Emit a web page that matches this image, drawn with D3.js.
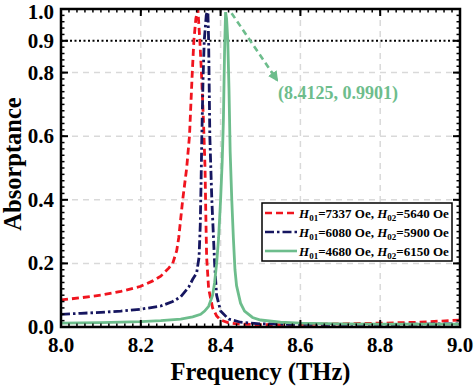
<!DOCTYPE html>
<html><head><meta charset="utf-8">
<script src="https://cdn.jsdelivr.net/npm/d3@7"></script>
<style>body{margin:0;background:#fff}svg{display:block}text{font-family:"Liberation Serif","Times New Roman",serif;font-weight:bold}</style>
</head><body><svg id="c" width="474" height="387"></svg>
<script>
const xTicks=[8.0,8.2,8.4,8.6,8.8,9.0];
const yTicks=[0.0,0.2,0.4,0.6,0.8,0.9,1.0];
const yTickLabels=["0.0","0.2","0.4","0.6","0.8","0.9","1.0"];
const legendH01=["7337","6080","4680"];
const legendH02=["5640","5900","6150"];
const peakLabel="(8.4125, 0.9901)";
const peakPoint=[8.4125,0.9901];
// series 1 (red dashed)
const redX=[8.00,8.05,8.10,8.15,8.20,8.23,8.25,8.27,8.28,8.29,8.295,8.305,8.315,8.322,8.329,8.333,8.338,8.343,8.348,8.352,8.357,8.361,8.363,8.365,8.37,8.38,8.39,8.40,8.42,8.45,8.50,8.60,8.70,8.80,8.90,9.00];
const redY=[0.085,0.092,0.10,0.112,0.128,0.145,0.16,0.185,0.20,0.24,0.28,0.40,0.50,0.60,0.80,0.90,0.97,1.00,0.90,0.80,0.65,0.50,0.35,0.22,0.12,0.06,0.035,0.022,0.013,0.009,0.007,0.008,0.010,0.012,0.015,0.022];
// series 2 (navy dash-dot)
const blueX=[8.00,8.05,8.10,8.15,8.20,8.25,8.28,8.30,8.32,8.33,8.34,8.346,8.349,8.351,8.353,8.356,8.359,8.364,8.368,8.370,8.373,8.378,8.385,8.39,8.40,8.42,8.45,8.50,8.60,8.80,9.00];
const blueY=[0.04,0.043,0.046,0.05,0.056,0.066,0.08,0.095,0.125,0.15,0.17,0.22,0.32,0.45,0.60,0.78,0.90,0.98,1.00,0.90,0.60,0.40,0.20,0.10,0.05,0.025,0.015,0.010,0.008,0.008,0.010];
// series 3 (green solid)
const greenX=[8.00,8.10,8.20,8.25,8.30,8.33,8.35,8.36,8.37,8.38,8.385,8.39,8.395,8.40,8.404,8.407,8.41,8.4125,8.415,8.418,8.421,8.424,8.428,8.432,8.436,8.44,8.45,8.46,8.48,8.50,8.55,8.60,8.70,8.80,9.00];
const greenY=[0.012,0.014,0.017,0.02,0.025,0.032,0.04,0.05,0.065,0.10,0.14,0.20,0.28,0.40,0.52,0.65,0.87,0.9901,0.97,0.90,0.75,0.55,0.40,0.28,0.18,0.13,0.075,0.05,0.03,0.022,0.015,0.012,0.010,0.009,0.009];

const svg=d3.select("#c");
const L=61,R=460,T=9,B=327;
const x=d3.scaleLinear().domain([8,9]).range([L,R]);
const y=d3.scaleLinear().domain([0,1]).range([B,T]);
const minorX=d3.range(8,9.0001,0.02), minorY=d3.range(0,1.0001,0.02);

// grid
const g=svg.append("g");
[8.2,8.4,8.6,8.8].forEach(v=>g.append("line").attr("x1",x(v)).attr("x2",x(v)).attr("y1",T).attr("y2",B).attr("stroke","#d9d9d9").attr("stroke-width",1.5).attr("stroke-dasharray","6,5"));
[0.2,0.4,0.6,0.8].forEach(v=>g.append("line").attr("x1",L).attr("x2",R).attr("y1",y(v)).attr("y2",y(v)).attr("stroke","#d9d9d9").attr("stroke-width",1.5).attr("stroke-dasharray","6,5"));
// 0.9 dotted line
svg.append("line").attr("x1",L).attr("x2",R).attr("y1",y(0.9)).attr("y2",y(0.9)).attr("stroke","#000").attr("stroke-width",2).attr("stroke-dasharray","2,2.5");

svg.append("defs").append("clipPath").attr("id","cp").append("rect").attr("x",L).attr("y",T-3).attr("width",R-L).attr("height",B-T+3);
const line=d3.line().x(d=>x(d[0])).y(d=>y(d[1]));
const series=[
 {xs:redX,ys:redY,color:"#f0141e",dash:"7,4",w:2.8},
 {xs:blueX,ys:blueY,color:"#161660",dash:"9,3,2.5,3",w:2.8},
 {xs:greenX,ys:greenY,color:"#6dbd8c",dash:null,w:2.8}
];
const pl=svg.append("g").attr("clip-path","url(#cp)");
series.forEach(s=>{
  pl.append("path").datum(s.xs.map((v,i)=>[v,s.ys[i]])).attr("d",line).attr("fill","none")
   .attr("stroke",s.color).attr("stroke-width",s.w).attr("stroke-dasharray",s.dash);
});

// axes ticks (inward) on all sides
const ax=svg.append("g");
function tk(x1,y1,x2,y2,w){ax.append("line").attr("x1",x1).attr("y1",y1).attr("x2",x2).attr("y2",y2).attr("stroke","#000").attr("stroke-width",w);}
minorX.forEach(v=>{tk(x(v),B,x(v),B-3.5,1.5);tk(x(v),T,x(v),T+3.5,1.5);});
minorY.forEach(v=>{tk(L,y(v),L+3.5,y(v),1.5);tk(R,y(v),R-3.5,y(v),1.5);});
xTicks.forEach(v=>{tk(x(v),B,x(v),B-7,2);tk(x(v),T,x(v),T+7,2);});
yTicks.forEach(v=>{tk(L,y(v),L+7,y(v),2);tk(R,y(v),R-7,y(v),2);});
svg.append("rect").attr("x",L).attr("y",T).attr("width",R-L).attr("height",B-T).attr("fill","none").attr("stroke","#000").attr("stroke-width",2.5);

// tick labels
xTicks.forEach(v=>svg.append("text").attr("x",x(v)).attr("y",B+25).attr("text-anchor","middle").attr("font-size",21).text(v.toFixed(1)));
yTicks.forEach((v,i)=>svg.append("text").attr("x",L-7).attr("y",Math.max(y(v)+7,19)).attr("text-anchor","end").attr("font-size",21).text(yTickLabels[i]));
// axis titles
svg.append("text").attr("x",(L+R)/2).attr("y",380).attr("text-anchor","middle").attr("font-size",24.5).text("Frequency (THz)");
svg.append("text").attr("transform","translate(21,164) rotate(-90)").attr("text-anchor","middle").attr("font-size",24.5).text("Absorptance");

// annotation
const gc="#6dbd8c";
svg.append("defs").append("marker").attr("id","ah").attr("viewBox","0 0 10 10").attr("refX",8).attr("refY",5).attr("markerWidth",4).attr("markerHeight",4).attr("orient","auto")
 .append("path").attr("d","M0,0L10,5L0,10z").attr("fill",gc);
svg.append("line").attr("x1",x(peakPoint[0])+6).attr("y1",y(peakPoint[1])+1).attr("x2",277).attr("y2",80)
 .attr("stroke",gc).attr("stroke-width",2.6).attr("stroke-dasharray","6,4").attr("marker-end","url(#ah)");
svg.append("text").attr("x",278).attr("y",99).attr("font-size",18).attr("fill",gc).text(peakLabel);

// legend
const lg=svg.append("g");
lg.append("rect").attr("x",262).attr("y",203).attr("width",190).attr("height",58).attr("fill","#fff").attr("stroke","#000").attr("stroke-width",1.5);
series.forEach((s,i)=>{
  const yy=213+i*19;
  lg.append("line").attr("x1",265).attr("x2",297).attr("y1",yy).attr("y2",yy).attr("stroke",s.color).attr("stroke-width",2.6).attr("stroke-dasharray",s.dash);
  const t=lg.append("text").attr("x",299).attr("y",yy+4.5).attr("font-size",13);
  t.append("tspan").attr("font-style","italic").text("H");
  t.append("tspan").attr("font-size",9).attr("dy",3).text("01");
  t.append("tspan").attr("dy",-3).text("="+legendH01[i]+" Oe, ");
  t.append("tspan").attr("font-style","italic").text("H");
  t.append("tspan").attr("font-size",9).attr("dy",3).text("02");
  t.append("tspan").attr("dy",-3).text("="+legendH02[i]+" Oe");
});
</script></body></html>
